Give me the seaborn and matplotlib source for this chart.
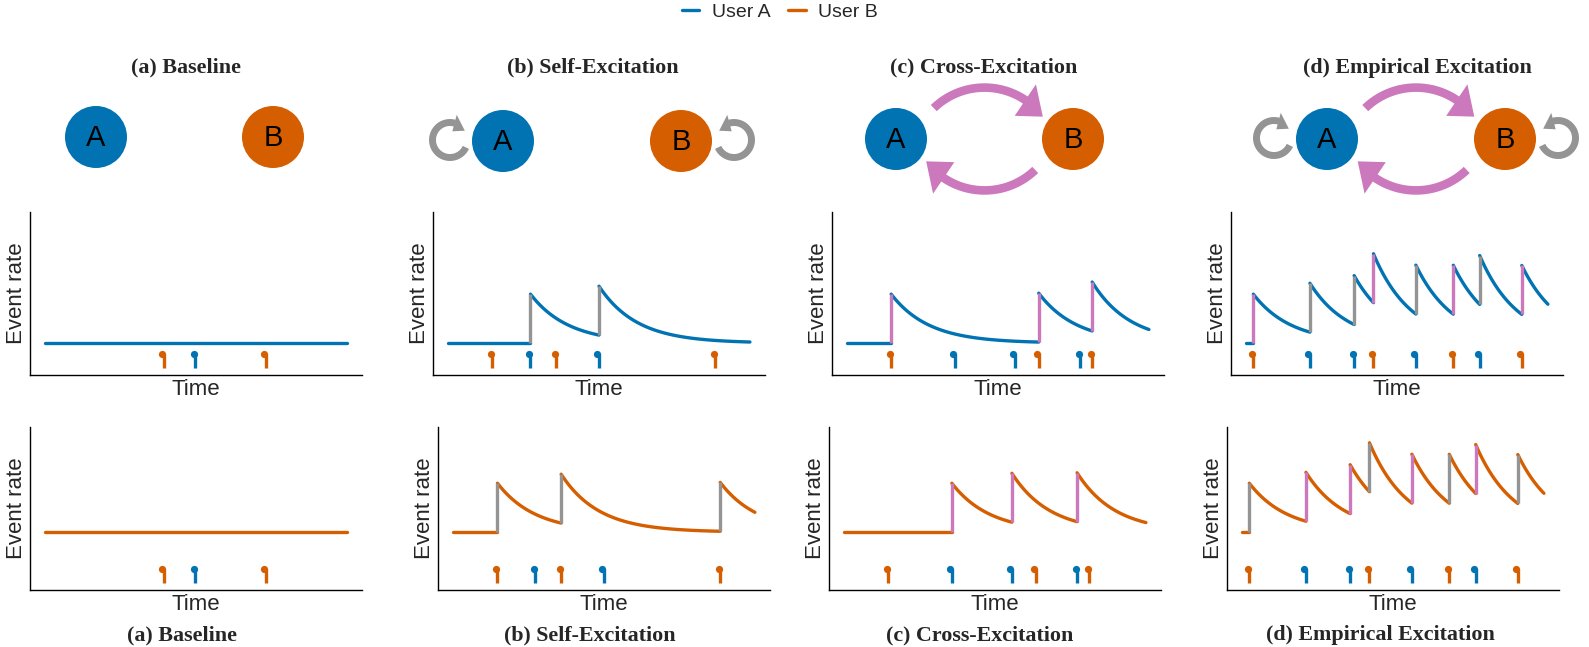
import numpy as np
import pandas as pd
import matplotlib
matplotlib.use("Agg")
import matplotlib.pyplot as plt
from matplotlib.patches import Circle, Polygon
from matplotlib.lines import Line2D
import seaborn as sns

# ---- data (time axis runs 0..10) ----
panel_titles = ["(a) Baseline", "(b) Self-Excitation", "(c) Cross-Excitation", "(d) Empirical Excitation"]
events_A = [[4.98], [2.73, 5.0], [3.57, 5.56, 7.72], [2.115, 3.58, 5.625, 7.74]]
events_B = [[3.94, 7.31], [1.47, 3.58, 8.85], [1.46, 6.35, 8.12], [0.24, 4.22, 6.865, 9.135]]
self_on = [False, True, False, True]
cross_on = [False, False, True, True]
mu_A, mu_B = 0.196, 0.355      # baseline rates
ALPHA, BETA = 0.30, 0.8        # jump size, decay
T_END = 10

W, H = 1589, 647
sns.set_theme(style="white")
plt.rcParams['font.family'] = ['Liberation Sans', 'DejaVu Sans']

pal = sns.color_palette("colorblind")
c_A, c_B = pal[0], pal[3]
c_self, c_cross = pal[7], pal[4]

fig = plt.figure(figsize=(W / 100, H / 100), dpi=100)

# diagram layer in pixel coords
dax = fig.add_axes([0, 0, 1, 1])
dax.set_xlim(0, W)
dax.set_ylim(H, 0)
dax.axis('off')


def arc_arrow(cx, cy, r, a0, ab, at, color, width, head_w):
    th = np.radians(np.linspace(a0, ab + np.sign(ab - a0) * 1.5, 100))
    dax.plot(cx + r * np.cos(th), cy - r * np.sin(th), color=color, lw=width, solid_capstyle='butt')
    tb, tt = np.radians(ab), np.radians(at)
    pts = [(cx + (r - head_w / 2) * np.cos(tb), cy - (r - head_w / 2) * np.sin(tb)),
           (cx + (r + head_w / 2) * np.cos(tb), cy - (r + head_w / 2) * np.sin(tb)),
           (cx + r * np.cos(tt), cy - r * np.sin(tt))]
    dax.add_patch(Polygon(pts, closed=True, facecolor=color, edgecolor='none'))


node_A = [(96, 137), (503, 141), (896, 139), (1327, 139)]
node_B = [(273, 137), (681, 141), (1073, 139), (1505, 139)]
for i in range(4):
    for (x, y), c, lab in [(node_A[i], c_A, 'A'), (node_B[i], c_B, 'B')]:
        dax.add_patch(Circle((x, y), 31, facecolor=c, edgecolor='none', zorder=3))
        dax.text(x, y + 1, lab, ha='center', va='center', fontsize=21, color='black', zorder=4)
    if self_on[i]:
        ax_, ay_ = node_A[i]
        bx_, by_ = node_B[i]
        arc_arrow(ax_ - 53, ay_ - 1, 17.5, -25, -285, -328, c_self, 5, 17)
        arc_arrow(bx_ + 53, by_ - 1, 17.5, 205, 465, 508, c_self, 5, 17)
    if cross_on[i]:
        mx = (node_A[i][0] + node_B[i][0]) / 2
        arc_arrow(mx, 160.6, 73, 134, 56, 37, c_cross, 6.2, 38)
        arc_arrow(mx, 117.4, 73, -46, -124, -143, c_cross, 6.2, 38)

top_title_x = [186, 593, 984, 1417]
bot_title_x = [182, 590, 980, 1380]
for i in range(4):
    for tx, ty in [(top_title_x[i], 67.5), (bot_title_x[i], 635)]:
        fig.text(tx / W, 1 - ty / H, panel_titles[i], ha='center', va='center',
                 fontsize=15.8, fontweight='bold', family=['Liberation Serif', 'DejaVu Serif'])


def lam(t, active, mu):
    val = np.full_like(t, mu, dtype=float)
    for e in active:
        val = val + ALPHA * np.exp(-BETA * (t - e))
    return val


def draw_panel(ax, own, other, mu, color, s_on, c_on):
    trig = sorted([(e, c_self) for e in own] * s_on + [(e, c_cross) for e in other] * c_on)
    bounds = [0] + [e for e, _ in trig] + [T_END]
    rows = []
    for k in range(len(bounds) - 1):
        a, b = bounds[k], bounds[k + 1]
        tt = np.linspace(a, b, 80)
        active = [e for e, _ in trig[:k]]
        for t_, r_ in zip(tt, lam(tt, active, mu)):
            rows.append((t_, r_, k))
    df = pd.DataFrame(rows, columns=['t', 'rate', 'seg'])
    sns.lineplot(data=df, x='t', y='rate', units='seg', estimator=None, color=color,
                 linewidth=2.4, ax=ax, legend=False)
    for k, (e, jc) in enumerate(trig):
        pre = lam(np.array([e]), [x for x, _ in trig[:k]], mu)[0]
        ax.vlines(e, pre, pre + ALPHA, colors=[jc], lw=2.4, zorder=3)
    for ev, c in [(events_A_cur, c_A), (events_B_cur, c_B)]:
        ax.vlines(ev, 0.045, 0.13, colors=[c], lw=2.4, zorder=4)
        ax.plot(np.array(ev) - 0.05, [0.13] * len(ev), 'o', ms=5.2, color=c, mec='none', zorder=4)
    ax.set_xlim(-0.5, 10.5)
    ax.set_ylim(0, 1)
    ax.set_xticks([])
    ax.set_yticks([])
    ax.set_xlabel('Time', fontsize=16, labelpad=3)
    ax.set_ylabel('Event rate', fontsize=16, labelpad=2)
    sns.despine(ax=ax)
    for s in ['left', 'bottom']:
        ax.spines[s].set_color('black')
        ax.spines[s].set_linewidth(1.0)


top_left = [30, 433, 832, 1231]
bot_left = [30, 438, 829, 1227]
AX_W, AX_H = 332, 163
for i in range(4):
    events_A_cur, events_B_cur = events_A[i], events_B[i]
    ax_t = fig.add_axes([top_left[i] / W, 1 - 375 / H, AX_W / W, AX_H / H])
    draw_panel(ax_t, events_A[i], events_B[i], mu_A, c_A, self_on[i], cross_on[i])
    ax_b = fig.add_axes([bot_left[i] / W, 1 - 590 / H, AX_W / W, AX_H / H])
    draw_panel(ax_b, events_B[i], events_A[i], mu_B, c_B, self_on[i], cross_on[i])

handles = [Line2D([], [], color=c_A, lw=2.4), Line2D([], [], color=c_B, lw=2.4)]
fig.legend(handles, ['User A', 'User B'], loc='center', bbox_to_anchor=(780 / W, 1 - 12 / H),
           ncol=2, frameon=False, fontsize=14, handlelength=0.9, handletextpad=0.65, columnspacing=0.9)

fig.savefig('out.png', dpi=100)
